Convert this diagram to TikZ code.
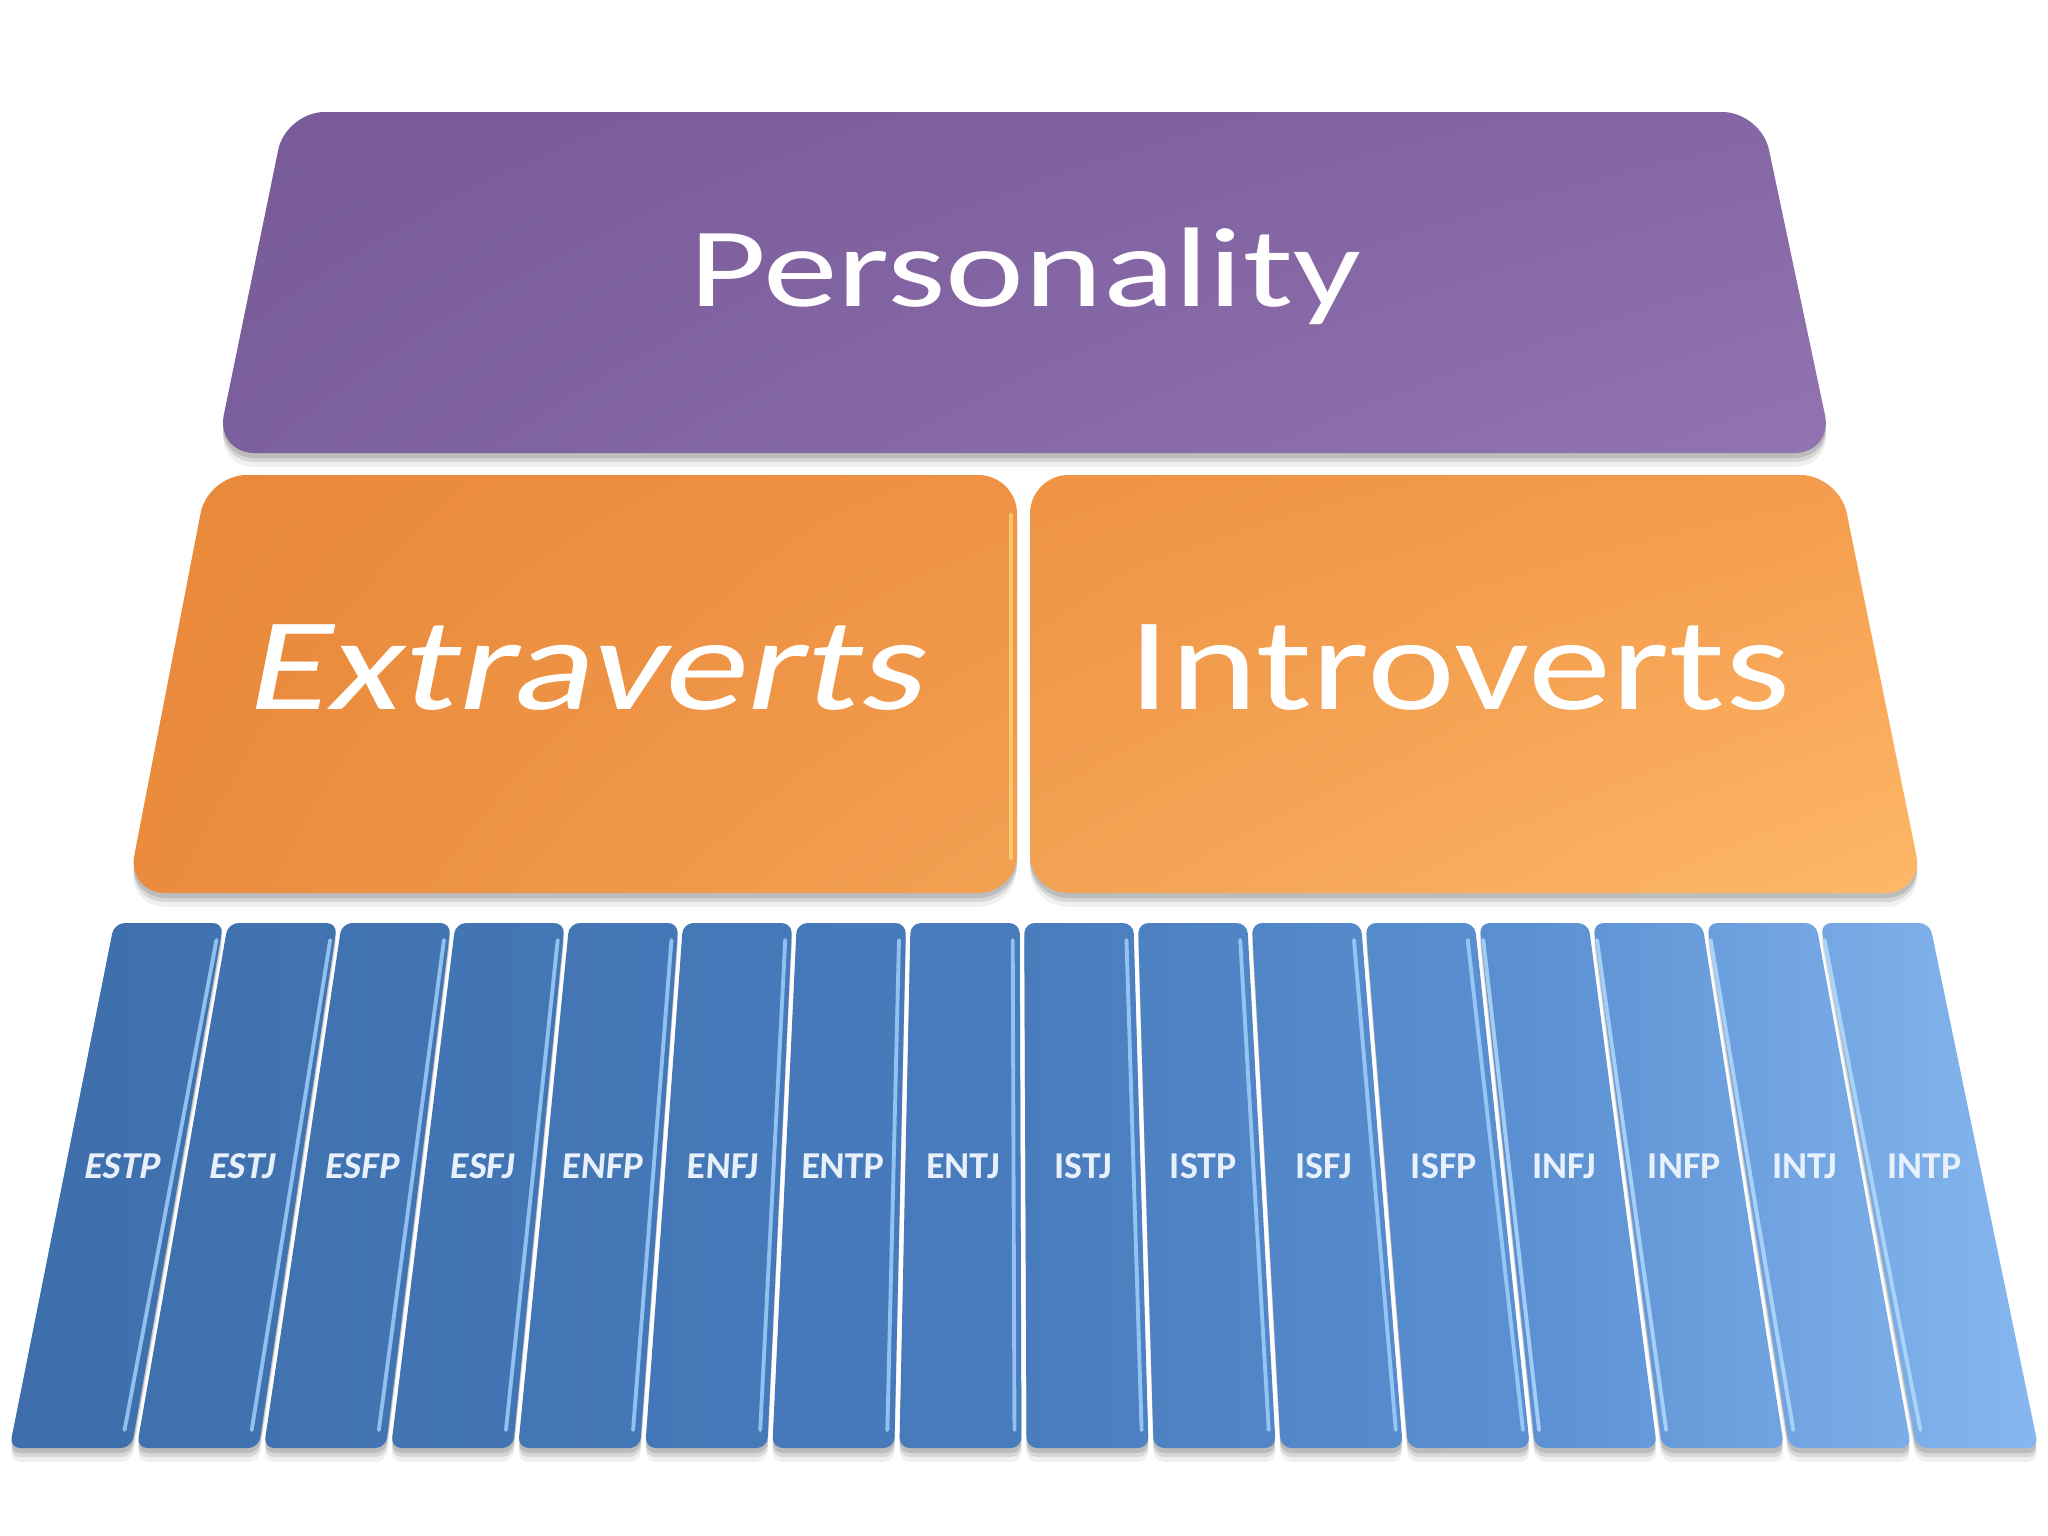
\documentclass[tikz,border=0pt]{standalone}
\usepackage{fontspec}
\setmainfont{Carlito}
\usetikzlibrary{calc,shadings}
\definecolor{pUL}{HTML}{785A98}
\definecolor{pUR}{HTML}{8567A5}
\definecolor{pLL}{HTML}{7C5F9D}
\definecolor{pLR}{HTML}{9274B1}
\definecolor{oUL}{HTML}{E8883A}
\definecolor{oUR}{HTML}{F59D4E}
\definecolor{oLL}{HTML}{EA8B3E}
\definecolor{oLR}{HTML}{FDB867}
\definecolor{bA}{HTML}{3E6FAC}
\definecolor{bB}{HTML}{487CBD}
\definecolor{bC}{HTML}{5B90D2}
\definecolor{bD}{HTML}{86B7EF}
\definecolor{lblcol}{HTML}{E8F1FB}
\definecolor{hiblue}{HTML}{A4D4FF}
\definecolor{hiorange}{HTML}{FFD27A}
\pgfdeclarehorizontalshading{bluerow}{100bp}{color(0bp)=(bA); color(25bp)=(bA); color(50bp)=(bB); color(62.5bp)=(bC); color(75bp)=(bD); color(100bp)=(bD)}
\begin{document}
\begin{tikzpicture}[x=0.01cm,y=-0.01cm,
  shadowfill/.style={fill=black,opacity=#1},
  bigtext/.style={anchor=base,text=white,inner sep=0pt},
  lbl/.style={anchor=base,text=lblcol,inner sep=0pt,font=\fontsize{10.8pt}{12pt}\selectfont\bfseries},
  hiline/.style={line width=1.1pt,line cap=round,opacity=0.8}]
\useasboundingbox[fill=white] (0,0) rectangle (2048,1536);

% ---------- shadows ----------
\foreach \d/\o in {14/0.06,9/0.10,5/0.12}{
  \fill[shadowfill=\o,rounded corners=11pt,shift={(0,\d)}]
    (286,112) -- (1761,112) -- (1833,453) -- (216,453) -- cycle;
  \fill[shadowfill=\o,rounded corners=11pt,shift={(0,\d)}]
    (208,475) -- (1017,475) -- (1017,893) -- (127,893) -- cycle
    (1030,475) -- (1839,475) -- (1924,893) -- (1030,893) -- cycle;
  \fill[shadowfill=\o,rounded corners=3pt,shift={(0,\d)}]
    \foreach \i in {0,...,15}{
      ({112+(\i+0.02)*113.75},923) -- ({112+(\i+0.98)*113.75},923) --
      ({7+(\i+0.98)*127.125},1448) -- ({7+(\i+0.02)*127.125},1448) -- cycle };
}

% ---------- purple box ----------
\shade[upper left=pUL,upper right=pUR,lower left=pLL,lower right=pLR,rounded corners=11pt]
  (286,112) -- (1761,112) -- (1833,453) -- (216,453) -- cycle;

% ---------- orange boxes ----------
\shade[upper left=oUL,upper right=oUR,lower left=oLL,lower right=oLR,rounded corners=11pt]
  (208,475) -- (1017,475) -- (1017,893) -- (127,893) -- cycle
  (1030,475) -- (1839,475) -- (1924,893) -- (1030,893) -- cycle;
\draw[hiline,hiorange] (1011,515) -- (1011,858);

% ---------- blue bars ----------
\shade[shading=bluerow,rounded corners=3pt]
  \foreach \i in {0,...,15}{
    ({112+(\i+0.02)*113.75},923) -- ({112+(\i+0.98)*113.75},923) --
    ({7+(\i+0.98)*127.125},1448) -- ({7+(\i+0.02)*127.125},1448) -- cycle };
\foreach \i in {0,...,11}{
  \draw[hiline,hiblue] ({112+(\i+0.98)*113.75-7},940) -- ({7+(\i+0.98)*127.125-7},1430);
}
\foreach \i in {12,...,15}{
  \draw[hiline,hiblue!80!white] ({112+(\i+0.02)*113.75+4},940) -- ({7+(\i+0.02)*127.125+4},1430);
}

% ---------- texts ----------
\begin{scope}[shift={(1025,306)}]
  \node[bigtext,font=\fontsize{32.2pt}{34pt}\selectfont,xscale=1.32,transform shape] (personality) at (0,0) {Personality};
\end{scope}
\begin{scope}[shift={(583,709)}]
  \node[bigtext,font=\fontsize{37.6pt}{40pt}\selectfont,xslant=0.2,xscale=1.26,transform shape] (extraverts) at (0,0) {Extraverts};
\end{scope}
\begin{scope}[shift={(1459,709)}]
  \node[bigtext,font=\fontsize{37.6pt}{40pt}\selectfont,xscale=1.26,transform shape] (introverts) at (0,0) {Introverts};
\end{scope}

\foreach \lab [count=\k from 0] in {ESTP,ESTJ,ESFP,ESFJ,ENFP,ENFJ,ENTP,ENTJ,ISTJ,ISTP,ISFJ,ISFP,INFJ,INFP,INTJ,INTP}{
  \pgfmathsetmacro\tcx{112+(\k+0.5)*113.75}
  \pgfmathsetmacro\bcx{7+(\k+0.5)*127.125}
  \pgfmathsetmacro\tpos{(1178-923)/525}
  \pgfmathsetmacro\cxx{\tcx+(\bcx-\tcx)*\tpos}
  \pgfmathsetmacro\slnt{max((\tcx-\bcx)/525,0)}
  \begin{scope}[shift={(\cxx,1178)}]
    \node[lbl,xslant=\slnt,transform shape] (\lab) at (0,0) {\lab};
  \end{scope}
}
\end{tikzpicture}
\end{document}
